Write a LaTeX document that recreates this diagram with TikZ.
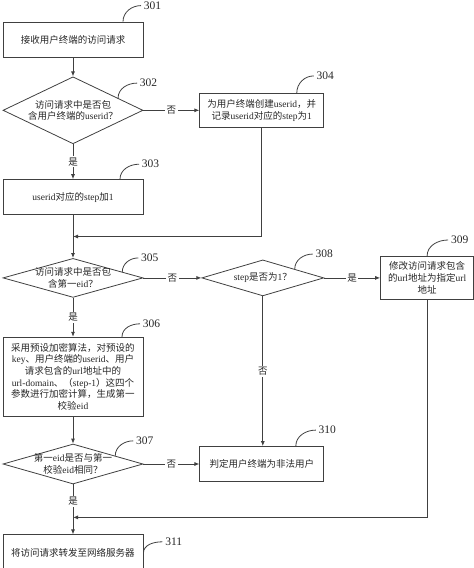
\documentclass[tikz,border=0pt]{standalone}
\usepackage{fontspec}
\setmainfont{Liberation Serif}
\newfontfamily\cjk{Noto Sans CJK SC}
\usetikzlibrary{shapes.geometric,arrows.meta,positioning,calc}
\definecolor{ink}{HTML}{262626}
\definecolor{edge}{HTML}{404040}
% switch to the CJK font for Chinese characters and punctuation
\XeTeXinterchartokenstate=1
\newXeTeXintercharclass\cjkclass
\newcount\cjkcode
\def\setcjkrange#1#2{\cjkcode=#1 \loop\XeTeXcharclass\cjkcode=\cjkclass\advance\cjkcode by 1 \ifnum\cjkcode<#2 \repeat}
\setcjkrange{"3000}{"3040}
\setcjkrange{"4E00}{"A000}
\setcjkrange{"FF00}{"FFF0}
\XeTeXinterchartoks 0 \cjkclass={\begingroup\cjk}
\XeTeXinterchartoks 4095 \cjkclass={\begingroup\cjk}
\XeTeXinterchartoks \cjkclass 0={\endgroup}
\XeTeXinterchartoks \cjkclass 4095={\endgroup}
\begin{document}
\begin{tikzpicture}[x=1pt,y=1pt,font=\fontsize{9.5}{11.7}\selectfont,color=ink,
  box/.style={draw=edge,line width=0.8pt,minimum width=140pt,align=center,inner sep=2pt},
  dia/.style={diamond,draw=edge,line width=0.8pt,minimum width=140pt,minimum height=#1,inner sep=0pt},
  dtxt/.style={align=center,inner sep=0pt},
  arr/.style={-{Latex[length=5pt,width=4pt]},draw=edge,line width=0.8pt},
  yn/.style={fill=white,inner sep=1.5pt},
  lead/.style={draw=edge,line width=0.8pt},
  tag/.style={font=\fontsize{11.5}{12}\selectfont,inner sep=2.5pt,anchor=west}]
\useasboundingbox (0,0) rectangle (474,-568);
% left column
\node[box,minimum height=35pt] (s301) at (73,-39.5) {接收用户终端的访问请求};
\node[dia=67pt,below=19pt of s301,label={[dtxt]center:{访问请求中是否包\\含用户终端的userid？}}] (q302) {};
\node[box,minimum height=35pt,below=35pt of q302] (s303) {userid对应的step加1};
\node[dia=39pt,below=43pt of s303,label={[dtxt]center:{访问请求中是否包\\含第一eid？}}] (q305) {};
\node[box,minimum height=79pt,below=39pt of q305] (s306) {采用预设加密算法，对预设的\\key、用户终端的userid、用户\\请求包含的url地址中的\\url-domain、（step-1）这四个\\参数进行加密计算，生成第一\\校验eid};
\node[dia=40pt,below=27pt of s306,label={[dtxt]center:{第一eid是否与第一\\校验eid相同？}}] (q307) {};
\node[box,minimum height=37pt,below=50pt of q307] (s311) {将访问请求转发至网络服务器};
% right column
\node[box,minimum width=124pt,minimum height=34pt,right=56pt of q302] (s304) {为用户终端创建userid，并\\记录userid对应的step为1};
\node[dia=36pt,minimum width=122pt,right=58pt of q305,label={[dtxt]center:{step是否为1？}}] (q308) {};
\node[box,minimum width=93pt,minimum height=43pt,right=56pt of q308] (s309) {修改访问请求包含\\的url地址为指定url\\地址};
\node[box,minimum width=124pt,minimum height=35pt,right=56pt of q307] (s310) {判定用户终端为非法用户};
\coordinate (j1) at ($(s303.south)!0.5!(q305.north)$);
\coordinate (j2) at ($(q307.south)!0.66!(s311.north)$);
% flow
\draw[arr] (s301) -- (q302);
\draw[arr] (q302) -- node[yn] (n302) {否} (s304);
\draw[arr] (q302) -- node[yn] (y302) {是} (s303);
\draw[arr] (s303) -- (q305);
\draw[arr] (s304.south) |- (j1);
\draw[arr] (q305) -- node[yn] (n305) {否} (q308);
\draw[arr] (q305) -- node[yn] (y305) {是} (s306);
\draw[arr] (q308) -- node[yn] (y308) {是} (s309);
\draw[arr] (q308.south) -- node[yn] (n308) {否} (q308.south |- s310.north);
\draw[arr] (s306) -- (q307);
\draw[arr] (q307) -- node[yn] (n307) {否} (s310);
\draw[arr] (q307) -- node[yn,pos=0.34] (y307) {是} (s311);
\draw[arr] (s309.south) |- (j2);
% step numbers
\draw[lead] ([xshift=50pt]s301.north) to[out=90,in=180] ++(18,16) node[tag] (t301) {301};
\draw[lead] ($(q302.north)!0.64!(q302.east)$) to[out=90,in=180] ++(19,15) node[tag] (t302) {302};
\draw[lead] ([xshift=47pt]s303.north) to[out=90,in=180] ++(19,15) node[tag] (t303) {303};
\draw[lead] ([xshift=35pt]s304.north) to[out=90,in=180] ++(17,17) node[tag] (t304) {304};
\draw[lead] ($(q305.north)!0.7!(q305.east)$) to[out=90,in=180] ++(16,14) node[tag] (t305) {305};
\draw[lead] ([xshift=49pt]s306.north) to[out=90,in=180] ++(18,13) node[tag] (t306) {306};
\draw[lead] ($(q307.north)!0.6!(q307.east)$) to[out=90,in=180] ++(18,15) node[tag] (t307) {307};
\draw[lead] ($(q308.north)!0.52!(q308.east)$) to[out=90,in=180] ++(18,15) node[tag] (t308) {308};
\draw[lead] (s309.north) to[out=90,in=180] ++(21,16) node[tag] (t309) {309};
\draw[lead] ([xshift=34pt]s310.north) to[out=90,in=180] ++(20,16) node[tag] (t310) {310};
\draw[lead] (s311.east) to[out=90,in=180] ++(19,11.5) node[tag] (t311) {311};
\end{tikzpicture}
\end{document}
